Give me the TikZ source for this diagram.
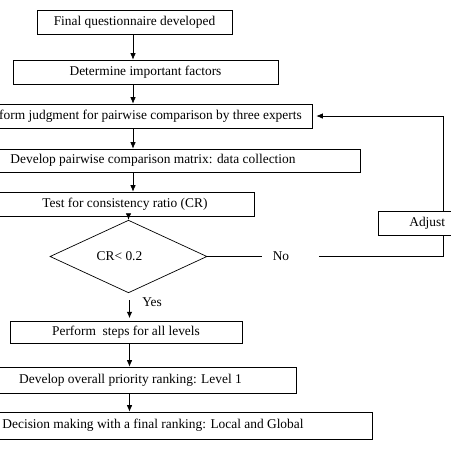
\documentclass[tikz,border=0pt]{standalone}
\usepackage{fontspec}
\setmainfont{Liberation Serif}
\usetikzlibrary{shapes.geometric,arrows.meta}
\tikzstyle{stepbox}=[draw, rectangle, inner sep=0pt, line width=0.7pt]
\tikzstyle{decision}=[draw, diamond, inner sep=0pt, line width=0.7pt, minimum width=157pt, minimum height=41pt]
\tikzstyle{flow}=[->, line width=0.7pt]

\begin{document}
\begin{tikzpicture}[x=1pt, y=-1pt, >={Latex[length=6.5pt,width=5.5pt]}, font=\fontsize{13.4}{16}\selectfont]
\useasboundingbox (0,0) rectangle (451,451);
\fill[white] (0,0) rectangle (451,451);

\node[stepbox, minimum width=195pt, minimum height=24pt] (final)    at (134.5, 22)   {Final questionnaire developed};
\node[stepbox, minimum width=265pt, minimum height=24pt] (factors)  at (145.5, 72)   {Determine important factors};
\node[stepbox, minimum width=323pt, minimum height=24pt] (judgment) at (150.5, 116)  {form judgment for pairwise comparison by three experts};
\node[stepbox, minimum width=414pt, minimum height=23pt] (matrix)   at (153, 160.5)  {Develop pairwise comparison matrix: data collection};
\node[stepbox, minimum width=258pt, minimum height=24pt] (ratio)    at (125, 204)    {Test for consistency ratio (CR)};
\node[decision] (crtest) at (128.5, 256.5) {CR< 0.2\hspace*{18pt}};
\node[stepbox, minimum width=232pt, minimum height=21.5pt] (levels) at (126, 332.5) {Perform \ steps for all levels};
\node[stepbox, minimum width=331pt, minimum height=26pt] (overall)  at (130.5, 380)  {Develop overall priority ranking: Level 1};
\node[stepbox, minimum width=438pt, minimum height=27pt] (ranking)  at (153, 425.5)  {Decision making with a final ranking: Local and Global};

\node[inner xsep=10.5pt] (no) at (281, 256.5) {No};
\node (yes) at (152, 302) {Yes};

\coordinate (spine)      at (133, 0);
\coordinate (spinelow)   at (129.5, 0);
\coordinate (loopbottom) at (443, 256.5);
\coordinate (looptop)    at (443, 116);

\draw[flow] (final.south -| spine)    -- (factors.north -| spine);
\draw[flow] (factors.south -| spine)  -- (judgment.north -| spine);
\draw[flow] (judgment.south -| spine) -- (matrix.north -| spine);
\draw[flow] (matrix.south -| spine)   -- (ratio.north -| spine);
\draw[flow] (ratio.south -| crtest)   -- (crtest.north);
\draw[->, line width=1.6pt, shorten <=7pt, shorten >=3pt] (crtest.south -| spinelow) -- (levels.north -| spinelow);
\draw[flow] (levels.south -| spinelow)  -- (overall.north -| spinelow);
\draw[flow] (overall.south -| spinelow) -- (ranking.north -| spinelow);

% loop back when CR is too high
\draw[line width=0.7pt] (crtest.east) -- (no.west);
\draw[line width=0.7pt, shorten <=19pt] (no.east) -- (loopbottom) -- (looptop);
\draw[flow, shorten >=4pt] (looptop) -- (judgment.east);

\node[stepbox, fill=white, anchor=west, minimum height=24pt, text width=60pt, inner xsep=31pt, align=left] (adjust) at (378, 223) {Adjust};

\end{tikzpicture}
\end{document}
